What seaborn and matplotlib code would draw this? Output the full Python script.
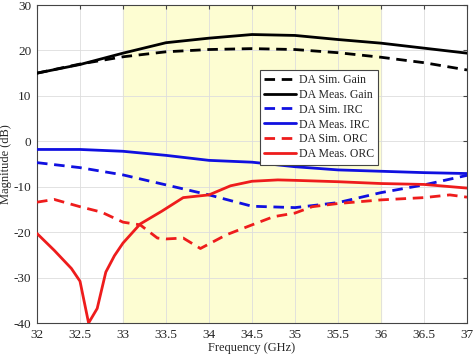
import seaborn as sns
import numpy as np
import pandas as pd
import matplotlib
matplotlib.use("Agg")
import matplotlib.pyplot as plt

# ---- data ----
f_gain = [32, 32.5, 33, 33.5, 34, 34.5, 35, 35.5, 36, 36.5, 37]
sim_gain = [15.0, 17.0, 18.6, 19.7, 20.2, 20.4, 20.2, 19.5, 18.5, 17.3, 15.7]
meas_gain = [15.0, 16.9, 19.4, 21.7, 22.7, 23.5, 23.3, 22.4, 21.6, 20.5, 19.4]

f_irc = [32, 32.5, 33, 33.5, 34, 34.5, 35, 35.5, 36, 36.5, 37]
sim_irc = [-4.7, -5.8, -7.4, -9.6, -11.8, -14.3, -14.6, -13.5, -11.3, -9.6, -7.5]
meas_irc = [-1.8, -1.8, -2.2, -3.1, -4.2, -4.6, -5.6, -6.3, -6.6, -6.9, -7.1]

f_sorc = [32, 32.2, 32.5, 32.75, 33, 33.2, 33.4, 33.5, 33.7, 33.9, 34.2, 34.5, 34.75, 35, 35.2, 35.5, 36, 36.5, 36.8, 37]
sim_orc = [-13.4, -12.8, -14.4, -15.6, -17.8, -18.4, -21.3, -21.5, -21.3, -23.6, -20.6, -18.4, -16.6, -15.8, -14.4, -13.7, -12.9, -12.4, -11.8, -12.3]

f_morc = [32, 32.2, 32.4, 32.5, 32.6, 32.7, 32.8, 32.9, 33, 33.2, 33.45, 33.7, 34, 34.25, 34.5, 34.8, 35, 35.5, 36, 36.5, 37]
meas_orc = [-20.3, -24.0, -28.0, -30.8, -40.0, -36.8, -28.8, -25.2, -22.4, -18.2, -15.4, -12.4, -11.8, -9.8, -8.8, -8.5, -8.6, -8.9, -9.3, -9.5, -10.3]

band = (33, 36)

series = [
    ("DA Sim. Gain", f_gain, sim_gain, "black", "--"),
    ("DA Meas. Gain", f_gain, meas_gain, "black", "-"),
    ("DA Sim. IRC", f_irc, sim_irc, "#1010e0", "--"),
    ("DA Meas. IRC", f_irc, meas_irc, "#1010e0", "-"),
    ("DA Sim. ORC", f_sorc, sim_orc, "#ee1c1c", "--"),
    ("DA Meas. ORC", f_morc, meas_orc, "#ee1c1c", "-"),
]

sns.set_style("white")
plt.rcParams['font.family'] = ['Liberation Serif', 'DejaVu Serif']
plt.rcParams['axes.unicode_minus'] = False

fig = plt.figure(figsize=(4.74, 3.59), dpi=100)
ax = fig.add_axes([37/474, 1-323/359, 430/474, 318/359])

ax.axvspan(band[0], band[1], color="#fdfdd2", zorder=0)

for name, f, v, c, ls in series:
    df = pd.DataFrame({"f": f, "v": v})
    sns.lineplot(data=df, x="f", y="v", ax=ax, color=c, linestyle=ls,
                 linewidth=2.0, label=name, sort=False, zorder=3)
for line in ax.get_lines():
    if line.get_linestyle() == "--":
        line.set_dashes([3.8, 2.4])

ax.set_xlim(32, 37)
ax.set_ylim(-40, 30)
ax.set_xticks(np.arange(32, 37.01, 0.5))
ax.set_xticklabels(["32", "32.5", "33", "33.5", "34", "34.5", "35", "35.5", "36", "36.5", "37"])
ax.set_yticks(np.arange(-40, 31, 10))
ax.grid(True, color="#dddddd", linewidth=0.6, zorder=1)
ax.set_axisbelow(True)
ax.tick_params(direction="in", top=True, right=True, labelsize=9.5, length=3,
               color="#444444", pad=4)
for s in ax.spines.values():
    s.set_color("#444444")
    s.set_linewidth(0.8)

ax.set_xlabel("Frequency (GHz)", fontsize=9, labelpad=1)
ax.set_ylabel("Magnitude (dB)", fontsize=9, labelpad=0)
ax.yaxis.set_label_coords(-0.058, 0.5)

leg = ax.legend(loc="upper left", bbox_to_anchor=(0.519, 0.797), fontsize=8.5,
                frameon=True, fancybox=False, edgecolor="#444444",
                handlelength=2.7, handletextpad=0.2, labelspacing=0.25,
                borderpad=0.35, borderaxespad=0)
leg.get_frame().set_linewidth(0.8)
leg.get_frame().set_facecolor("white")
leg.get_frame().set_alpha(1)

fig.savefig("out.png", dpi=100)
